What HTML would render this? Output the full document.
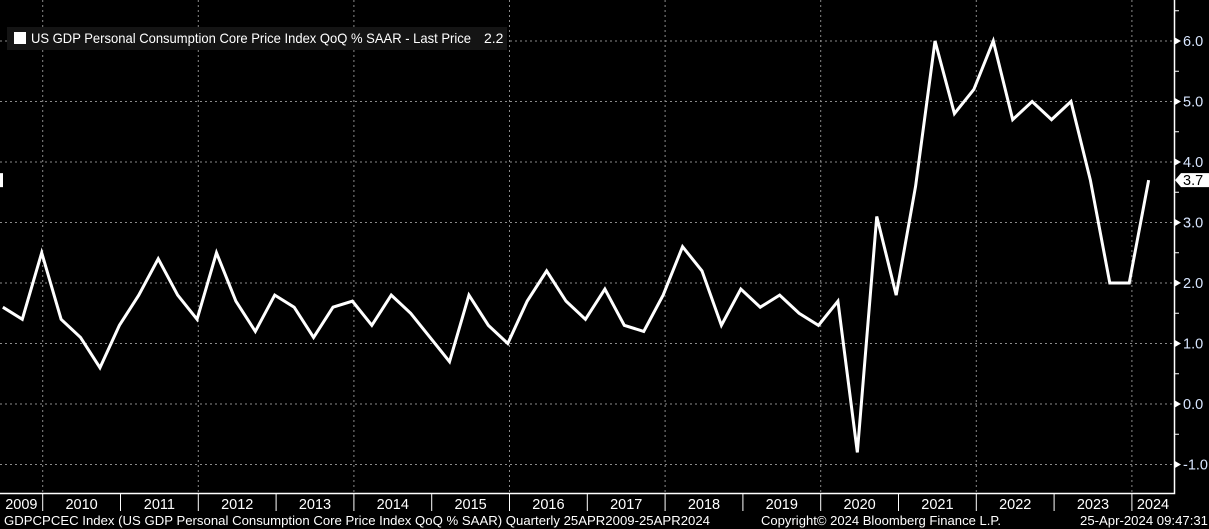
<!DOCTYPE html>
<html><head><meta charset="utf-8"><style>
html,body{margin:0;padding:0;background:#000;}
svg{display:block;font-family:"Liberation Sans",sans-serif;}
</style></head><body>
<svg id="chart" width="1209" height="529" viewBox="0 0 1209 529">
<g id="grid"></g>
<g id="axes"></g>
<rect x="7" y="27" width="500" height="23" fill="#141414"/>
<rect x="14" y="32" width="12" height="12" fill="#fff"/>
<text x="31" y="43" fill="#fff" font-size="14" textLength="440" lengthAdjust="spacingAndGlyphs">US GDP Personal Consumption Core Price Index QoQ % SAAR - Last Price</text>
<text x="484" y="43" fill="#fff" font-size="14">2.2</text>
<g id="series"></g>
<text x="4" y="525" fill="#fff" font-size="13" textLength="706" lengthAdjust="spacingAndGlyphs">GDPCPCEC Index (US GDP Personal Consumption Core Price Index QoQ % SAAR)  Quarterly 25APR2009-25APR2024</text>
<text x="761" y="525" fill="#fff" font-size="13" textLength="240" lengthAdjust="spacingAndGlyphs">Copyright© 2024 Bloomberg Finance L.P.</text>
<text x="1080" y="525" fill="#fff" font-size="13" textLength="128" lengthAdjust="spacingAndGlyphs">25-Apr-2024 09:47:31</text>
</svg>
<script>
const values=[1.6,1.4,2.5,1.4,1.1,0.6,1.3,1.8,2.4,1.8,1.4,2.5,1.7,1.2,1.8,1.6,1.1,1.6,1.7,1.3,1.8,1.5,1.1,0.7,1.8,1.3,1.0,1.7,2.2,1.7,1.4,1.9,1.3,1.2,1.8,2.6,2.2,1.3,1.9,1.6,1.8,1.5,1.3,1.7,-0.8,3.1,1.8,3.6,6.0,4.8,5.2,6.0,4.7,5.0,4.7,5.0,3.7,2.0,2.0,3.7];
const yTicks=[-1,0,1,2,3,4,5,6];
const years=[2009,2010,2011,2012,2013,2014,2015,2016,2017,2018,2019,2020,2021,2022,2023,2024];
const lastValue=3.7;
const NS="http://www.w3.org/2000/svg";
function y(v){return 404-v*60.5;}
function xq(i){return 41.7+(i-2)*19.42;}
function xy(yr){return 42.7+(yr-2010)*77.8;}
function mk(tag,attrs,parent){const e=document.createElementNS(NS,tag);for(const k in attrs)e.setAttribute(k,attrs[k]);parent.appendChild(e);return e;}
const grid=document.getElementById('grid'),axes=document.getElementById('axes'),series=document.getElementById('series');
yTicks.forEach(t=>{
  const l=mk('line',{x1:0,x2:1174,y1:y(t),y2:y(t),stroke:'#8a8a8a','stroke-dasharray':'2,3','stroke-width':1},grid);
  
  
  const tk=mk('path',{d:`M1174 ${y(t)-4} L1181 ${y(t)} L1174 ${y(t)+4}Z`,fill:'#fff'},axes);
  
  
  const tx=mk('text',{x:1183,y:y(t)+5,fill:'#d8e6ff','font-size':14.5},axes);
  tx.textContent=t.toFixed(1);
  
  
  const mn=mk('line',{x1:1174,x2:1179,y1:y(t+0.5),y2:y(t+0.5),stroke:'#fff'},axes);
  
  
});
years.forEach(yr=>{
  const x0=Math.max(0,xy(yr)),x1=Math.min(1174,xy(yr+1));
  if(yr%2===0 && yr>2009){
    const g=mk('line',{x1:xy(yr),x2:xy(yr),y1:0,y2:493,stroke:'#8a8a8a','stroke-dasharray':'2,3'},grid);
    
    
  }
  if(yr>2009){
    const d=mk('line',{x1:xy(yr),x2:xy(yr),y1:493,y2:511,stroke:'#fff'},axes);
    
    
  }
  const t=mk('text',{x:(x0+x1)/2,y:509,fill:'#fff','font-size':14.5,'text-anchor':'middle'},axes);
  t.textContent=yr;
  
  
});
const ax=mk('path',{d:'M0 493.5 H1174.5 V0',fill:'none',stroke:'#fff','stroke-width':1.5},axes);


const line=mk('polyline',{points:values.map((v,i)=>xq(i)+','+y(v)).join(' '),fill:'none',stroke:'#fff','stroke-width':3,'stroke-linejoin':'miter'},series);


const ly=y(lastValue);
const lb=mk('path',{d:`M1175 ${ly} L1181 ${ly-7} H1209 V${ly+7} H1181Z`,fill:'#fff'},series);


const lt=mk('text',{x:1183,y:ly+5,fill:'#000','font-size':14.5},series);
lt.textContent=lastValue.toFixed(1);


const lm=mk('rect',{x:0,y:ly-7,width:3,height:14,fill:'#fff'},series);


</script>
</body></html>
